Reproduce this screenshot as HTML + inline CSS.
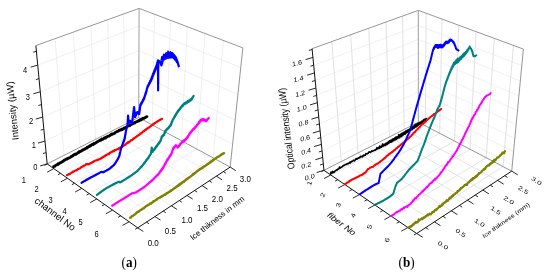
<!DOCTYPE html>
<html><head><meta charset="utf-8"><style>
html,body{margin:0;padding:0;background:#fff;width:550px;height:274px;overflow:hidden}
svg{display:block}
text{font-family:"Liberation Sans",Arial,sans-serif}
</style></head><body>
<svg width="550" height="274" viewBox="0 0 550 274" shape-rendering="geometricPrecision">
<g id="a">
<line x1="63.95" y1="155.40" x2="55.05" y2="38.69" stroke="#e4e4e4" stroke-width="0.6"/>
<line x1="63.95" y1="155.40" x2="154.93" y2="216.55" stroke="#e4e4e4" stroke-width="0.6"/>
<line x1="80.06" y1="147.21" x2="73.36" y2="32.09" stroke="#e4e4e4" stroke-width="0.6"/>
<line x1="80.06" y1="147.21" x2="171.35" y2="205.76" stroke="#e4e4e4" stroke-width="0.6"/>
<line x1="95.55" y1="139.34" x2="90.88" y2="25.77" stroke="#e4e4e4" stroke-width="0.6"/>
<line x1="95.55" y1="139.34" x2="187.03" y2="195.45" stroke="#e4e4e4" stroke-width="0.6"/>
<line x1="110.44" y1="131.77" x2="107.65" y2="19.72" stroke="#e4e4e4" stroke-width="0.6"/>
<line x1="110.44" y1="131.77" x2="202.03" y2="185.59" stroke="#e4e4e4" stroke-width="0.6"/>
<line x1="124.78" y1="124.48" x2="123.72" y2="13.93" stroke="#e4e4e4" stroke-width="0.6"/>
<line x1="124.78" y1="124.48" x2="216.39" y2="176.16" stroke="#e4e4e4" stroke-width="0.6"/>
<line x1="152.30" y1="124.90" x2="154.47" y2="14.22" stroke="#e4e4e4" stroke-width="0.6"/>
<line x1="166.59" y1="132.65" x2="170.51" y2="20.33" stroke="#e4e4e4" stroke-width="0.6"/>
<line x1="181.47" y1="140.72" x2="187.32" y2="26.73" stroke="#e4e4e4" stroke-width="0.6"/>
<line x1="197.00" y1="149.14" x2="204.94" y2="33.44" stroke="#e4e4e4" stroke-width="0.6"/>
<line x1="213.21" y1="157.93" x2="223.43" y2="40.49" stroke="#e4e4e4" stroke-width="0.6"/>
<line x1="60.54" y1="173.36" x2="152.30" y2="124.90" stroke="#e4e4e4" stroke-width="0.6"/>
<line x1="74.54" y1="183.24" x2="166.59" y2="132.65" stroke="#e4e4e4" stroke-width="0.6"/>
<line x1="89.21" y1="193.60" x2="181.47" y2="140.72" stroke="#e4e4e4" stroke-width="0.6"/>
<line x1="104.59" y1="204.45" x2="197.00" y2="149.14" stroke="#e4e4e4" stroke-width="0.6"/>
<line x1="120.75" y1="215.86" x2="213.21" y2="157.93" stroke="#e4e4e4" stroke-width="0.6"/>
<line x1="44.99" y1="141.09" x2="138.69" y2="96.17" stroke="#e4e4e4" stroke-width="0.6"/>
<line x1="138.69" y1="96.17" x2="232.61" y2="144.13" stroke="#e4e4e4" stroke-width="0.6"/>
<line x1="42.70" y1="117.08" x2="138.80" y2="73.91" stroke="#e4e4e4" stroke-width="0.6"/>
<line x1="138.80" y1="73.91" x2="235.18" y2="119.95" stroke="#e4e4e4" stroke-width="0.6"/>
<line x1="40.28" y1="91.80" x2="138.92" y2="50.60" stroke="#e4e4e4" stroke-width="0.6"/>
<line x1="138.92" y1="50.60" x2="237.90" y2="94.48" stroke="#e4e4e4" stroke-width="0.6"/>
<line x1="37.74" y1="65.14" x2="139.04" y2="26.18" stroke="#e4e4e4" stroke-width="0.6"/>
<line x1="139.04" y1="26.18" x2="240.77" y2="67.60" stroke="#e4e4e4" stroke-width="0.6"/>
<line x1="35.87" y1="45.60" x2="139.13" y2="8.38" stroke="#8a8a8a" stroke-width="0.9"/>
<line x1="139.13" y1="8.38" x2="242.87" y2="47.89" stroke="#8a8a8a" stroke-width="0.9"/>
<line x1="230.16" y1="167.11" x2="242.87" y2="47.89" stroke="#8a8a8a" stroke-width="0.9"/>
<line x1="138.58" y1="117.47" x2="139.13" y2="8.38" stroke="#b0b0b0" stroke-width="1.2"/>
<line x1="47.17" y1="163.92" x2="138.58" y2="117.47" stroke="#8a8a8a" stroke-width="0.9"/>
<line x1="138.58" y1="117.47" x2="230.16" y2="167.11" stroke="#8a8a8a" stroke-width="0.9"/>
<line x1="47.17" y1="163.92" x2="35.87" y2="45.60" stroke="#111" stroke-width="1"/>
<line x1="47.17" y1="163.92" x2="137.74" y2="227.85" stroke="#111" stroke-width="1"/>
<line x1="137.74" y1="227.85" x2="230.16" y2="167.11" stroke="#111" stroke-width="1"/>
<line x1="47.17" y1="163.92" x2="40.17" y2="165.92" stroke="#111" stroke-width="0.9"/>
<line x1="44.99" y1="141.09" x2="37.99" y2="143.09" stroke="#111" stroke-width="0.9"/>
<line x1="42.70" y1="117.08" x2="35.70" y2="119.08" stroke="#111" stroke-width="0.9"/>
<line x1="40.28" y1="91.80" x2="33.28" y2="93.80" stroke="#111" stroke-width="0.9"/>
<line x1="37.74" y1="65.14" x2="30.74" y2="67.14" stroke="#111" stroke-width="0.9"/>
<line x1="46.09" y1="152.65" x2="42.94" y2="153.55" stroke="#111" stroke-width="0.9"/>
<line x1="43.86" y1="129.24" x2="40.71" y2="130.14" stroke="#111" stroke-width="0.9"/>
<line x1="41.51" y1="104.61" x2="38.36" y2="105.51" stroke="#111" stroke-width="0.9"/>
<line x1="39.03" y1="78.65" x2="35.88" y2="79.55" stroke="#111" stroke-width="0.9"/>
<line x1="36.41" y1="51.26" x2="33.26" y2="52.16" stroke="#111" stroke-width="0.9"/>
<line x1="47.17" y1="163.92" x2="44.53" y2="165.36" stroke="#111" stroke-width="0.9"/>
<line x1="53.78" y1="168.59" x2="47.18" y2="172.19" stroke="#111" stroke-width="0.9"/>
<line x1="60.54" y1="173.36" x2="57.90" y2="174.80" stroke="#111" stroke-width="0.9"/>
<line x1="67.46" y1="178.25" x2="60.86" y2="181.85" stroke="#111" stroke-width="0.9"/>
<line x1="74.54" y1="183.24" x2="71.90" y2="184.68" stroke="#111" stroke-width="0.9"/>
<line x1="81.79" y1="188.36" x2="75.19" y2="191.96" stroke="#111" stroke-width="0.9"/>
<line x1="89.21" y1="193.60" x2="86.57" y2="195.04" stroke="#111" stroke-width="0.9"/>
<line x1="96.81" y1="198.96" x2="90.21" y2="202.56" stroke="#111" stroke-width="0.9"/>
<line x1="104.59" y1="204.45" x2="101.95" y2="205.89" stroke="#111" stroke-width="0.9"/>
<line x1="112.57" y1="210.09" x2="105.97" y2="213.69" stroke="#111" stroke-width="0.9"/>
<line x1="120.75" y1="215.86" x2="118.11" y2="217.30" stroke="#111" stroke-width="0.9"/>
<line x1="129.14" y1="221.78" x2="122.54" y2="225.38" stroke="#111" stroke-width="0.9"/>
<line x1="137.74" y1="227.85" x2="135.10" y2="229.29" stroke="#111" stroke-width="0.9"/>
<line x1="137.74" y1="227.85" x2="143.34" y2="231.45" stroke="#111" stroke-width="0.9"/>
<line x1="146.44" y1="222.13" x2="148.96" y2="223.75" stroke="#111" stroke-width="0.9"/>
<line x1="154.93" y1="216.55" x2="160.53" y2="220.15" stroke="#111" stroke-width="0.9"/>
<line x1="163.24" y1="211.09" x2="165.76" y2="212.71" stroke="#111" stroke-width="0.9"/>
<line x1="171.35" y1="205.76" x2="176.95" y2="209.36" stroke="#111" stroke-width="0.9"/>
<line x1="179.28" y1="200.55" x2="181.80" y2="202.17" stroke="#111" stroke-width="0.9"/>
<line x1="187.03" y1="195.45" x2="192.63" y2="199.05" stroke="#111" stroke-width="0.9"/>
<line x1="194.62" y1="190.47" x2="197.14" y2="192.09" stroke="#111" stroke-width="0.9"/>
<line x1="202.03" y1="185.59" x2="207.63" y2="189.19" stroke="#111" stroke-width="0.9"/>
<line x1="209.29" y1="180.82" x2="211.81" y2="182.44" stroke="#111" stroke-width="0.9"/>
<line x1="216.39" y1="176.16" x2="221.99" y2="179.76" stroke="#111" stroke-width="0.9"/>
<line x1="223.35" y1="171.59" x2="225.87" y2="173.21" stroke="#111" stroke-width="0.9"/>
<line x1="230.16" y1="167.11" x2="235.76" y2="170.71" stroke="#111" stroke-width="0.9"/>
</g>
<g id="b">
<line x1="341.31" y1="161.47" x2="331.83" y2="41.56" stroke="#cdcdcd" stroke-width="0.6"/>
<line x1="341.31" y1="161.47" x2="434.39" y2="221.88" stroke="#d4d4d4" stroke-width="0.6"/>
<line x1="357.98" y1="152.98" x2="350.70" y2="34.76" stroke="#cdcdcd" stroke-width="0.6"/>
<line x1="357.98" y1="152.98" x2="451.28" y2="210.79" stroke="#d4d4d4" stroke-width="0.6"/>
<line x1="373.98" y1="144.82" x2="368.74" y2="28.26" stroke="#cdcdcd" stroke-width="0.6"/>
<line x1="373.98" y1="144.82" x2="467.41" y2="200.20" stroke="#d4d4d4" stroke-width="0.6"/>
<line x1="389.37" y1="136.98" x2="386.00" y2="22.04" stroke="#cdcdcd" stroke-width="0.6"/>
<line x1="389.37" y1="136.98" x2="482.82" y2="190.07" stroke="#d4d4d4" stroke-width="0.6"/>
<line x1="404.17" y1="129.44" x2="402.53" y2="16.08" stroke="#cdcdcd" stroke-width="0.6"/>
<line x1="404.17" y1="129.44" x2="497.58" y2="180.38" stroke="#d4d4d4" stroke-width="0.6"/>
<line x1="425.36" y1="125.82" x2="426.09" y2="13.21" stroke="#cdcdcd" stroke-width="0.6"/>
<line x1="439.67" y1="133.32" x2="442.03" y2="19.09" stroke="#cdcdcd" stroke-width="0.6"/>
<line x1="454.55" y1="141.12" x2="458.68" y2="25.23" stroke="#cdcdcd" stroke-width="0.6"/>
<line x1="470.04" y1="149.25" x2="476.11" y2="31.65" stroke="#cdcdcd" stroke-width="0.6"/>
<line x1="486.18" y1="157.71" x2="494.35" y2="38.38" stroke="#cdcdcd" stroke-width="0.6"/>
<line x1="503.02" y1="166.54" x2="513.47" y2="45.43" stroke="#cdcdcd" stroke-width="0.6"/>
<line x1="330.75" y1="174.96" x2="425.36" y2="125.82" stroke="#d4d4d4" stroke-width="0.6"/>
<line x1="344.80" y1="184.54" x2="439.67" y2="133.32" stroke="#d4d4d4" stroke-width="0.6"/>
<line x1="359.50" y1="194.55" x2="454.55" y2="141.12" stroke="#d4d4d4" stroke-width="0.6"/>
<line x1="374.89" y1="205.03" x2="470.04" y2="149.25" stroke="#d4d4d4" stroke-width="0.6"/>
<line x1="391.01" y1="216.01" x2="486.18" y2="157.71" stroke="#d4d4d4" stroke-width="0.6"/>
<line x1="407.92" y1="227.54" x2="503.02" y2="166.54" stroke="#d4d4d4" stroke-width="0.6"/>
<line x1="323.32" y1="163.96" x2="418.41" y2="116.25" stroke="#e6e6e6" stroke-width="0.6"/>
<line x1="418.41" y1="116.25" x2="512.32" y2="164.72" stroke="#e6e6e6" stroke-width="0.6"/>
<line x1="322.06" y1="150.98" x2="418.41" y2="104.18" stroke="#e6e6e6" stroke-width="0.6"/>
<line x1="418.41" y1="104.18" x2="513.56" y2="151.70" stroke="#e6e6e6" stroke-width="0.6"/>
<line x1="320.76" y1="137.65" x2="418.40" y2="91.83" stroke="#e6e6e6" stroke-width="0.6"/>
<line x1="418.40" y1="91.83" x2="514.84" y2="138.34" stroke="#e6e6e6" stroke-width="0.6"/>
<line x1="319.42" y1="123.96" x2="418.40" y2="79.19" stroke="#e6e6e6" stroke-width="0.6"/>
<line x1="418.40" y1="79.19" x2="516.16" y2="124.60" stroke="#e6e6e6" stroke-width="0.6"/>
<line x1="318.04" y1="109.89" x2="418.39" y2="66.23" stroke="#e6e6e6" stroke-width="0.6"/>
<line x1="418.39" y1="66.23" x2="517.51" y2="110.49" stroke="#e6e6e6" stroke-width="0.6"/>
<line x1="316.63" y1="95.42" x2="418.39" y2="52.96" stroke="#e6e6e6" stroke-width="0.6"/>
<line x1="418.39" y1="52.96" x2="518.89" y2="95.98" stroke="#e6e6e6" stroke-width="0.6"/>
<line x1="315.18" y1="80.54" x2="418.38" y2="39.35" stroke="#e6e6e6" stroke-width="0.6"/>
<line x1="418.38" y1="39.35" x2="520.32" y2="81.05" stroke="#e6e6e6" stroke-width="0.6"/>
<line x1="313.68" y1="65.24" x2="418.38" y2="25.40" stroke="#e6e6e6" stroke-width="0.6"/>
<line x1="418.38" y1="25.40" x2="521.79" y2="65.69" stroke="#e6e6e6" stroke-width="0.6"/>
<line x1="312.07" y1="48.68" x2="418.37" y2="10.37" stroke="#8a8a8a" stroke-width="0.9"/>
<line x1="418.37" y1="10.37" x2="523.38" y2="49.08" stroke="#8a8a8a" stroke-width="0.9"/>
<line x1="511.71" y1="171.10" x2="523.38" y2="49.08" stroke="#8a8a8a" stroke-width="0.9"/>
<line x1="418.42" y1="122.17" x2="418.37" y2="10.37" stroke="#b0b0b0" stroke-width="1.2"/>
<line x1="323.95" y1="170.33" x2="418.42" y2="122.17" stroke="#8a8a8a" stroke-width="0.9"/>
<line x1="418.42" y1="122.17" x2="511.71" y2="171.10" stroke="#8a8a8a" stroke-width="0.9"/>
<line x1="323.95" y1="170.33" x2="312.07" y2="48.68" stroke="#111" stroke-width="1"/>
<line x1="323.95" y1="170.33" x2="416.69" y2="233.51" stroke="#111" stroke-width="1"/>
<line x1="416.69" y1="233.51" x2="511.71" y2="171.10" stroke="#111" stroke-width="1"/>
<line x1="323.95" y1="170.33" x2="316.65" y2="172.53" stroke="#111" stroke-width="0.9"/>
<line x1="322.69" y1="157.51" x2="315.39" y2="159.71" stroke="#111" stroke-width="0.9"/>
<line x1="321.41" y1="144.36" x2="314.11" y2="146.56" stroke="#111" stroke-width="0.9"/>
<line x1="320.09" y1="130.85" x2="312.79" y2="133.05" stroke="#111" stroke-width="0.9"/>
<line x1="318.74" y1="116.97" x2="311.44" y2="119.17" stroke="#111" stroke-width="0.9"/>
<line x1="317.34" y1="102.71" x2="310.04" y2="104.91" stroke="#111" stroke-width="0.9"/>
<line x1="315.91" y1="88.04" x2="308.61" y2="90.24" stroke="#111" stroke-width="0.9"/>
<line x1="314.44" y1="72.95" x2="307.14" y2="75.15" stroke="#111" stroke-width="0.9"/>
<line x1="312.92" y1="57.42" x2="305.62" y2="59.62" stroke="#111" stroke-width="0.9"/>
<line x1="323.32" y1="163.96" x2="320.04" y2="164.95" stroke="#111" stroke-width="0.9"/>
<line x1="322.06" y1="150.98" x2="318.77" y2="151.97" stroke="#111" stroke-width="0.9"/>
<line x1="320.76" y1="137.65" x2="317.47" y2="138.64" stroke="#111" stroke-width="0.9"/>
<line x1="319.42" y1="123.96" x2="316.13" y2="124.95" stroke="#111" stroke-width="0.9"/>
<line x1="318.04" y1="109.89" x2="314.76" y2="110.88" stroke="#111" stroke-width="0.9"/>
<line x1="316.63" y1="95.42" x2="313.35" y2="96.41" stroke="#111" stroke-width="0.9"/>
<line x1="315.18" y1="80.54" x2="311.89" y2="81.53" stroke="#111" stroke-width="0.9"/>
<line x1="313.68" y1="65.24" x2="310.40" y2="66.23" stroke="#111" stroke-width="0.9"/>
<line x1="312.14" y1="49.48" x2="308.86" y2="50.47" stroke="#111" stroke-width="0.9"/>
<line x1="323.95" y1="170.33" x2="321.31" y2="171.77" stroke="#111" stroke-width="0.9"/>
<line x1="330.75" y1="174.96" x2="324.15" y2="178.56" stroke="#111" stroke-width="0.9"/>
<line x1="337.70" y1="179.69" x2="335.06" y2="181.13" stroke="#111" stroke-width="0.9"/>
<line x1="344.80" y1="184.54" x2="338.20" y2="188.14" stroke="#111" stroke-width="0.9"/>
<line x1="352.07" y1="189.49" x2="349.43" y2="190.93" stroke="#111" stroke-width="0.9"/>
<line x1="359.50" y1="194.55" x2="352.90" y2="198.15" stroke="#111" stroke-width="0.9"/>
<line x1="367.11" y1="199.73" x2="364.47" y2="201.17" stroke="#111" stroke-width="0.9"/>
<line x1="374.89" y1="205.03" x2="368.29" y2="208.63" stroke="#111" stroke-width="0.9"/>
<line x1="382.85" y1="210.46" x2="380.21" y2="211.90" stroke="#111" stroke-width="0.9"/>
<line x1="391.01" y1="216.01" x2="384.41" y2="219.61" stroke="#111" stroke-width="0.9"/>
<line x1="399.36" y1="221.71" x2="396.72" y2="223.15" stroke="#111" stroke-width="0.9"/>
<line x1="407.92" y1="227.54" x2="401.32" y2="231.14" stroke="#111" stroke-width="0.9"/>
<line x1="416.69" y1="233.51" x2="414.05" y2="234.95" stroke="#111" stroke-width="0.9"/>
<line x1="416.69" y1="233.51" x2="422.79" y2="237.31" stroke="#111" stroke-width="0.9"/>
<line x1="425.65" y1="227.63" x2="428.39" y2="229.34" stroke="#111" stroke-width="0.9"/>
<line x1="434.39" y1="221.88" x2="440.49" y2="225.68" stroke="#111" stroke-width="0.9"/>
<line x1="442.94" y1="216.27" x2="445.68" y2="217.98" stroke="#111" stroke-width="0.9"/>
<line x1="451.28" y1="210.79" x2="457.38" y2="214.59" stroke="#111" stroke-width="0.9"/>
<line x1="459.44" y1="205.43" x2="462.18" y2="207.14" stroke="#111" stroke-width="0.9"/>
<line x1="467.41" y1="200.20" x2="473.51" y2="204.00" stroke="#111" stroke-width="0.9"/>
<line x1="475.20" y1="195.08" x2="477.95" y2="196.79" stroke="#111" stroke-width="0.9"/>
<line x1="482.82" y1="190.07" x2="488.92" y2="193.87" stroke="#111" stroke-width="0.9"/>
<line x1="490.28" y1="185.18" x2="493.03" y2="186.89" stroke="#111" stroke-width="0.9"/>
<line x1="497.58" y1="180.38" x2="503.68" y2="184.18" stroke="#111" stroke-width="0.9"/>
<line x1="504.72" y1="175.69" x2="507.46" y2="177.40" stroke="#111" stroke-width="0.9"/>
<line x1="511.71" y1="171.10" x2="517.81" y2="174.90" stroke="#111" stroke-width="0.9"/>
</g>
<polyline points="53.6,166.6 54.0,166.4 54.5,166.4 54.9,166.2 55.4,165.5 55.8,165.3 56.2,165.0 56.7,165.0 57.1,164.6 57.5,164.6 58.0,163.7 58.4,164.3 58.9,163.6 59.3,163.5 59.7,163.1 60.2,162.8 60.6,162.8 61.0,162.6 61.5,162.1 61.9,161.8 62.4,161.8 62.8,161.2 63.2,160.8 63.7,161.0 64.1,160.5 64.5,159.9 65.0,159.9 65.4,159.8 65.9,159.3 66.3,159.0 66.7,159.2 67.2,159.1 67.6,158.6 68.0,158.2 68.5,158.3 68.9,158.1 69.4,157.6 69.8,157.6 70.2,157.4 70.7,156.9 71.1,156.5 71.5,156.5 72.0,156.2 72.4,156.2 72.9,155.4 73.3,155.3 73.7,155.0 74.2,154.5 74.6,154.7 75.0,154.6 75.5,154.0 75.9,154.3 76.4,153.9 76.8,153.6 77.2,153.3 77.7,153.2 78.1,152.4 78.5,152.6 79.0,152.4 79.4,151.5 79.9,151.8 80.3,151.4 80.7,151.4 81.2,150.9 81.6,150.7 82.0,150.6 82.5,150.0 82.9,150.1 83.4,149.7 83.8,149.6 84.2,149.1 84.7,149.3 85.1,148.9 85.5,148.4 86.0,148.4 86.4,148.3 86.9,148.2 87.3,147.1 87.7,147.5 88.2,147.1 88.6,146.7 89.1,146.2 89.5,146.6 89.9,145.7 90.4,145.9 90.8,145.8 91.2,144.9 91.7,144.9 92.1,144.4 92.6,144.6 93.0,144.7 93.4,144.5 93.9,143.3 94.3,143.4 94.8,143.4 95.2,143.4 95.6,142.9 96.1,142.3 96.5,142.4 96.9,142.0 97.4,141.7 97.8,141.4 98.2,141.4 98.7,141.1 99.1,140.8 99.6,140.5 100.0,140.0 100.5,139.9 100.9,140.2 101.3,139.6 101.8,139.0 102.2,139.5 102.7,139.1 103.1,139.2 103.6,138.5 104.0,138.2 104.5,137.7 104.9,138.2 105.4,138.2 105.8,137.2 106.3,137.0 106.7,137.1 107.2,136.5 107.6,136.4 108.1,136.2 108.5,136.1 109.0,136.1 109.4,135.6 109.8,135.6 110.3,135.0 110.7,135.0 111.2,134.1 111.6,134.1 112.1,134.4 112.5,133.8 113.0,133.9 113.4,133.7 113.9,133.6 114.3,133.3 114.8,133.1 115.2,132.6 115.7,132.2 116.1,132.0 116.6,131.8 117.0,131.4 117.5,131.4 117.9,131.2 118.3,131.1 118.8,130.7 119.2,130.1 119.7,130.3 120.1,130.2 120.6,130.2 121.0,129.8 121.5,129.3 121.9,129.1 122.4,129.5 122.8,129.0 123.3,129.0 123.7,128.9 124.2,127.9 124.6,128.0 125.1,127.8 125.5,127.6 126.0,127.3 126.4,127.0 126.9,126.8 127.3,126.2 127.8,126.3 128.2,125.9 128.7,125.9 129.1,125.5 129.5,125.6 130.0,125.4 130.4,125.0 130.9,124.8 131.3,124.5 131.8,124.2 132.2,124.0 132.7,123.7 133.1,123.7 133.6,123.4 134.0,123.3 134.5,122.6 134.9,122.9 135.4,122.3 135.8,122.1 136.3,122.0 136.7,121.7 137.2,121.6 137.6,121.2 138.1,120.8 138.5,120.7 138.9,121.0 139.4,120.5 139.8,119.9 140.3,120.0 140.7,119.4 141.2,120.0 141.6,118.9 142.1,119.2 142.5,119.0 143.0,118.3 143.4,118.5 143.9,118.4 144.3,118.1 144.8,117.8 145.2,117.7 145.7,117.3 146.1,117.1 146.6,116.8 147.0,116.6" fill="none" stroke="#000" stroke-width="2.8" stroke-linejoin="round" stroke-linecap="round"/>
<polyline points="67.0,175.2 67.5,174.8 67.9,174.8 68.3,174.4 68.8,174.1 69.2,174.1 69.7,174.0 70.1,173.7 70.6,173.2 71.0,173.1 71.5,172.7 71.9,172.5 72.4,172.3 72.8,171.7 73.3,171.8 73.7,171.4 74.2,171.2 74.6,170.9 75.1,170.6 75.5,170.5 76.0,170.5 76.4,170.4 76.9,169.9 77.3,169.8 77.8,169.4 78.2,168.9 78.7,168.9 79.1,168.8 79.5,168.4 80.0,168.2 80.4,168.0 80.9,167.5 81.3,167.1 81.8,167.0 82.2,166.7 82.6,166.4 83.1,166.3 83.5,166.2 84.0,165.6 84.4,165.4 84.8,165.2 85.3,164.9 85.7,164.6 86.2,164.1 86.6,164.0 87.2,164.3 87.7,164.2 88.2,164.0 88.8,164.3 89.2,164.1 89.7,163.8 90.1,163.4 90.6,163.4 91.0,162.8 91.5,162.8 91.9,162.5 92.4,162.1 92.8,162.2 93.3,161.8 93.7,161.3 94.2,161.3 94.6,160.9 95.1,160.5 95.5,160.5 96.0,160.5 96.5,160.4 96.9,160.1 97.4,159.9 97.9,159.8 98.3,159.5 98.8,159.5 99.3,159.2 99.7,159.0 100.2,158.9 100.6,158.4 101.1,158.2 101.5,158.3 101.9,157.8 102.4,157.5 102.8,157.3 103.2,156.9 103.7,156.8 104.1,156.4 104.5,156.3 105.0,155.7 105.4,155.9 105.8,155.4 106.2,154.9 106.7,154.9 107.1,154.6 107.5,154.4 108.0,154.0 108.4,154.0 108.8,154.2 109.3,153.2 109.7,153.2 110.1,152.8 110.6,152.6 111.0,152.1 111.4,151.9 111.9,151.9 112.3,151.6 112.7,151.6 113.2,150.9 113.6,150.8 114.1,151.0 114.5,150.3 115.0,150.0 115.5,150.0 116.0,149.8 116.4,149.7 116.9,149.4 117.4,149.0 117.8,149.0 118.3,149.1 118.8,148.7 119.3,147.9 119.7,148.1 120.2,147.8 120.6,147.7 121.0,147.3 121.5,147.3 121.9,146.9 122.3,146.6 122.8,146.2 123.2,145.9 123.6,145.7 124.0,145.5 124.5,145.1 124.9,144.7 125.3,144.7 125.7,144.2 126.2,143.9 126.6,143.5 127.0,143.2 127.4,142.9 127.9,142.3 128.3,142.6 128.7,142.2 129.2,141.8 129.6,141.7 130.0,141.4 130.4,141.1 130.8,140.3 131.2,140.4 131.7,140.2 132.1,140.0 132.5,139.8 132.9,139.4 133.3,138.7 133.7,138.3 134.1,138.4 134.5,138.0 134.9,137.8 135.4,137.4 135.8,137.1 136.2,136.6 136.6,136.6 137.0,136.1 137.4,135.9 137.8,135.7 138.2,135.3 138.7,135.1 139.1,134.7 139.5,134.5 139.9,134.2 140.3,133.7 140.7,133.4 141.1,133.5 141.5,132.9 141.9,132.8 142.3,132.4 142.7,131.9 143.1,131.6 143.5,131.4 143.9,131.1 144.3,130.9 144.8,130.3 145.2,130.1 145.6,129.9 146.0,129.8 146.4,128.9 146.8,129.1 147.2,128.6 147.6,128.5 148.0,128.0 148.4,127.8 148.8,127.7 149.2,127.2 149.6,127.0 150.1,126.6 150.5,126.2 150.9,126.0 151.3,125.6 151.7,125.2 152.1,125.0 152.5,124.7 152.9,124.5 153.3,124.1 153.8,123.7 154.2,123.7 154.6,123.3 155.0,123.1 155.4,122.7 155.9,122.4 156.3,122.1 156.8,121.9 157.2,121.8 157.6,121.4 158.1,120.9 158.5,120.9 158.9,120.4 159.4,120.4 159.8,120.0 160.2,119.7 160.7,119.7 161.1,119.4 161.6,118.9 162.0,118.9" fill="none" stroke="#ff0000" stroke-width="2.2" stroke-linejoin="round" stroke-linecap="round"/>
<polyline points="81.5,182.8 82.0,182.4 82.4,182.4 82.9,181.8 83.3,181.8 83.8,181.3 84.2,181.3 84.7,180.8 85.2,180.8 85.6,180.2 86.1,180.2 86.5,179.7 87.0,179.7 87.4,179.2 87.9,179.2 88.3,178.7 88.8,178.6 89.2,178.2 89.7,178.2 90.1,177.7 90.6,177.7 91.0,177.2 91.5,177.2 91.9,176.8 92.4,176.7 92.8,176.3 93.3,176.3 93.7,175.9 94.2,175.8 94.6,175.4 95.0,175.4 95.5,174.9 95.9,174.9 96.4,174.4 96.8,174.4 97.2,174.0 97.7,173.9 98.1,173.5 98.6,173.4 99.0,173.0 99.4,172.9 99.9,172.5 100.3,172.5 100.8,172.1 101.2,172.0 101.8,171.8 102.3,172.1 102.8,172.1 103.4,172.3 103.8,171.8 104.3,171.8 104.7,171.3 105.2,171.4 105.6,170.9 106.1,170.9 106.5,170.4 107.0,170.3 107.4,169.9 107.9,169.9 108.3,169.4 108.8,169.3 109.2,168.9 109.6,168.8 110.0,168.2 110.4,168.1 110.8,167.5 111.2,167.4 111.5,166.8 112.0,166.7 112.3,166.1 112.7,166.1 113.1,165.5 113.5,165.4 113.9,164.8 114.3,164.7 114.6,164.0 114.9,163.8 115.2,163.2 115.5,163.0 115.8,162.3 116.0,162.1 116.3,161.4 116.6,161.2 116.9,160.6 117.2,160.3 117.4,159.6 117.7,159.4 117.9,158.6 118.2,158.4 118.4,157.6 118.7,157.4 118.9,156.7 119.2,156.4 119.4,155.7 119.5,155.4 119.6,154.6 119.7,154.4 119.8,153.5 120.0,153.3 120.0,152.5 120.2,152.3 120.3,151.4 120.4,151.2 120.5,150.3 120.6,150.2 120.8,149.2 120.9,149.2 121.1,148.3 121.2,148.2 121.4,147.2 121.6,147.2 121.7,146.3 121.9,146.3 122.1,145.3 122.3,145.3 122.5,144.4 122.6,144.4 122.8,143.4 123.0,143.3 123.2,142.3 123.4,142.6 123.6,141.3 123.8,141.6 123.9,140.3 124.1,140.7 124.3,139.4 124.5,139.6 124.6,138.3 124.7,138.6 124.8,137.5 124.9,137.6 124.9,136.6 125.0,136.5 125.1,135.5 125.2,135.6 125.3,134.4 125.4,134.7 125.5,133.3 125.6,133.7 125.7,132.4 125.7,132.6 125.8,131.4 125.9,131.4 126.0,130.5 126.1,130.6 126.2,129.5 126.4,129.5 126.5,128.5 126.7,128.3 126.8,127.5 126.9,127.4 127.1,126.6 127.2,126.3 127.4,125.6 127.5,125.3 127.5,124.5 127.6,124.3 127.6,123.5 127.6,123.3 127.7,122.5 127.7,122.2 127.7,121.6 127.8,121.2 127.8,120.5 127.8,120.2 127.8,119.5 127.9,119.1 127.9,118.5 127.9,118.1 128.0,117.5 128.0,117.0 128.0,116.5 128.1,116.0 128.1,115.5 128.1,116.0 128.2,116.5 128.2,117.0 128.3,117.6 128.3,118.0 128.3,118.7 128.4,119.0 128.4,119.7 128.5,120.0 128.5,120.8 128.5,121.0 128.6,121.8 128.6,122.0 128.7,122.9 128.7,123.0 129.1,123.0 129.4,121.8 129.8,121.9 130.1,120.9 130.5,122.0 130.9,121.7 131.3,122.8 131.7,122.4 132.1,123.5 132.2,122.3 132.2,122.5 132.3,121.5 132.3,121.5 132.4,120.4 132.4,120.4 132.5,119.5 132.6,119.3 132.6,118.3 132.7,118.4 132.8,117.3 132.8,117.3 132.9,116.4 132.9,116.2 133.0,115.4 133.1,115.3 133.1,114.3 133.2,114.3 133.2,113.4 133.3,113.2 133.3,112.4 133.4,112.2 133.5,111.4 133.6,111.0 133.6,110.3 133.7,109.9 133.8,109.2 133.9,108.8 133.9,108.2 134.0,107.7 134.1,107.1 134.2,107.6 134.2,108.1 134.2,108.6 134.3,109.2 134.3,109.5 134.4,110.2 134.4,110.5 134.5,111.2 134.6,111.5 134.6,112.2 134.7,112.5 134.7,113.3 134.8,113.5 134.8,114.3 134.8,114.4 134.9,115.2 134.9,115.4 135.0,116.3 135.1,116.5 135.1,117.2 135.3,116.4 135.5,116.4 135.7,115.4 135.9,115.5 136.1,114.3 136.3,114.5 136.5,113.4 136.7,113.4 136.9,112.3 137.1,112.5 137.5,112.1 137.9,113.3 138.3,112.8 138.7,114.2 139.1,113.6 139.2,114.0 139.2,112.5 139.3,113.0 139.4,111.5 139.5,112.2 139.5,110.6 139.6,111.0 139.7,109.7 139.8,110.2 139.8,108.5 139.9,109.1 140.0,107.7 140.0,108.0 140.1,106.4 140.2,106.9 140.3,105.4 140.3,106.0 140.4,104.6 140.7,105.0 140.9,103.8 141.2,104.3 141.4,102.6 141.7,103.2 142.0,101.9 142.2,102.6 142.5,101.0 142.7,101.6 143.0,99.8 143.2,100.6 143.5,99.1 143.7,99.8 144.0,97.8 144.2,98.6 144.4,97.0 144.5,97.6 144.7,96.0 144.8,96.4 145.0,95.1 145.2,95.4 145.3,94.1 145.5,94.5 145.7,92.9 145.8,93.6 146.0,91.9 146.1,92.7 146.3,91.1 146.4,91.5 146.6,90.1 146.7,90.5 146.8,89.1 146.9,89.4 147.1,88.1 147.2,88.5 147.4,86.8 147.5,87.5 147.8,85.8 148.0,86.5 148.2,85.0 148.5,85.6 148.8,84.1 149.0,84.6 149.2,82.9 149.5,83.7 149.8,82.1 150.0,82.8 150.2,80.8 150.5,81.7 150.8,80.0 151.0,80.9 151.2,78.9 151.4,79.8 151.6,77.8 151.8,79.2 151.9,76.8 152.1,78.3 152.3,76.1 152.5,77.2 152.7,74.9 152.9,76.2 153.1,73.9 153.2,75.3 153.4,73.1 153.6,74.5 153.8,72.4 154.0,73.5 154.2,71.2 154.4,72.3 154.6,70.1 154.8,71.7 155.0,69.5 155.2,70.5 155.3,68.6 155.5,69.8 155.7,67.6 155.9,68.6 156.1,66.4 156.3,67.8 156.5,65.8 156.6,67.1 156.7,64.8 156.9,65.8 157.0,63.9 157.1,64.7 157.2,62.9 157.4,63.5 157.5,62.0 157.6,62.5 157.7,61.2 157.9,61.1 158.0,60.4 158.0,60.9 158.0,61.4 158.0,61.9 158.0,62.4 158.0,62.9 158.0,63.4 158.0,63.9 158.0,64.4 158.0,64.9 158.0,65.4 158.0,65.9 158.0,66.4 158.0,66.9 158.0,67.4 158.0,67.9 158.0,68.4 158.0,68.9 158.0,69.4 158.0,69.9 158.0,70.4 158.0,70.9 158.0,71.4 158.0,71.9 158.0,72.4 158.0,72.9 158.0,73.4 158.0,73.9 158.1,74.5 158.1,75.0 158.1,75.5 158.1,76.0 158.1,76.5 158.1,77.0 158.1,77.5 158.1,78.0 158.1,78.5 158.1,79.0 158.1,79.5 158.1,80.0 158.1,80.5 158.1,81.0 158.1,81.5 158.1,82.0 158.1,82.5 158.1,83.0 158.1,83.5 158.1,84.0 158.1,84.5 158.1,85.0 158.1,85.5 158.1,86.0 158.1,86.5 158.1,87.0 158.1,87.5 158.1,88.0 158.1,88.5 158.1,89.0 158.1,89.5 158.1,90.0 158.1,90.5 158.1,90.0 158.1,89.5 158.1,89.0 158.1,88.5 158.1,88.0 158.1,87.5 158.1,87.0 158.1,86.5 158.1,86.0 158.1,85.5 158.1,85.0 158.1,84.5 158.1,84.0 158.2,83.5 158.2,83.0 158.2,82.5 158.2,82.0 158.2,81.5 158.2,81.0 158.2,80.5 158.2,80.0 158.2,79.5 158.2,79.0 158.2,78.5 158.2,78.0 158.2,77.5 158.2,77.0 158.2,76.5 158.2,76.0 158.2,75.5 158.2,75.0 158.2,74.5 158.2,74.0 158.2,73.5 158.2,73.0 158.2,72.5 158.2,72.0 158.2,71.5 158.2,71.0 158.2,70.5 158.2,70.0 158.2,69.5 158.2,69.0 158.2,68.5 158.2,68.0 158.3,67.5 158.3,67.0 158.3,66.5 158.3,66.0 158.3,65.5 158.3,65.0 158.3,64.5 158.3,64.0 158.3,63.5 158.3,63.0 158.3,62.5 158.3,62.0 158.3,61.5 158.3,61.0 158.8,61.1 159.3,61.8 159.8,61.3 160.3,62.6 160.5,61.7 160.7,63.7 160.8,62.9 161.0,64.5 161.2,63.7 161.4,65.5 161.5,63.7 161.7,64.9 161.8,62.6 161.9,63.7 162.1,61.7 162.2,63.3 162.3,60.8 162.4,62.2 162.6,59.4 162.7,61.3 162.8,58.4 163.0,59.9 163.1,57.1 163.5,59.0 163.9,55.9 164.3,59.3 164.6,55.6 165.0,58.5 165.4,54.5 165.8,58.6 166.3,54.5 166.9,57.4 167.4,53.5 168.0,58.0 168.5,52.8 169.0,57.4 169.5,53.9 170.0,57.7 170.5,53.4 171.0,56.9 171.5,53.2 172.0,57.5 172.5,53.9 173.0,57.5 173.4,54.5 173.9,58.0 174.4,55.5 174.7,59.4 175.0,56.5 175.2,59.3 175.5,57.4 175.8,60.5 176.1,58.2 176.4,61.1 176.6,59.4 176.9,62.0 177.2,60.7 177.4,62.6 177.7,62.1 177.9,63.6 178.0,63.1 178.2,64.6 178.3,64.5 178.5,65.4 178.6,65.7 178.8,66.3" fill="none" stroke="#0000ff" stroke-width="2.2" stroke-linejoin="round" stroke-linecap="round"/>
<polyline points="161.0,60.0 161.3,59.7 161.7,56.7 162.1,58.5 162.4,57.1 162.8,57.4 163.1,56.7 163.6,54.1 164.0,55.4 164.4,55.1 164.9,54.6 165.3,54.3 165.8,52.9 166.3,52.9 166.9,53.0 167.4,52.9 168.0,51.0 168.7,52.4 169.3,52.9 170.0,52.1 170.6,51.6 171.2,53.5 171.9,52.7 172.5,52.6 173.0,53.5 173.4,54.1 173.9,54.9 174.4,55.3 174.7,55.7 175.1,56.2 175.4,56.1 175.8,56.8 176.1,57.4 176.4,58.5 176.7,59.1 176.9,59.9 177.2,60.3 177.5,61.0" fill="none" stroke="#0000ff" stroke-width="1.3" stroke-linejoin="round" stroke-linecap="round"/>
<polyline points="96.9,195.0 97.3,194.6 97.7,194.5 98.1,193.9 98.5,193.9 98.9,193.3 99.3,193.2 99.7,192.7 100.2,192.6 100.6,192.1 101.0,192.0 101.4,191.5 101.8,191.4 102.2,190.8 102.6,190.7 103.0,190.2 103.4,190.1 103.8,189.7 104.3,189.6 104.7,189.1 105.2,189.1 105.6,188.6 106.0,188.5 106.5,188.1 106.9,188.0 107.4,187.5 107.8,187.5 108.2,187.0 108.7,187.0 109.1,186.5 109.6,186.5 110.0,186.0 110.5,185.9 110.9,185.5 111.3,185.5 111.8,185.1 112.2,185.1 112.7,184.6 113.1,184.6 113.6,184.1 114.0,184.2 114.5,183.7 114.9,183.7 115.3,183.2 115.8,183.2 116.3,182.8 116.8,182.8 117.3,182.3 117.8,182.3 118.3,181.8 118.8,181.8 119.3,181.8 119.7,182.3 120.2,182.3 120.7,182.2 121.1,181.7 121.6,181.7 122.0,181.2 122.5,181.1 122.9,180.6 123.4,180.6 123.8,180.1 124.3,180.0 124.7,179.5 125.2,179.5 125.7,179.0 126.1,178.9 126.5,178.4 127.0,178.3 127.4,177.8 127.9,177.7 128.3,177.3 128.8,177.2 129.2,176.7 129.7,176.6 130.1,176.1 130.6,176.1 131.0,175.6 131.4,175.5 131.9,175.0 132.3,174.9 132.7,174.4 133.1,174.3 133.6,173.7 134.0,173.6 134.4,173.1 134.8,173.0 135.2,172.5 135.6,172.4 136.0,171.9 136.5,171.7 136.9,171.2 137.3,171.1 137.7,170.6 138.1,170.4 138.4,169.8 138.7,169.7 139.1,169.0 139.4,168.9 139.8,168.3 140.1,168.2 140.5,167.4 140.8,167.5 141.2,166.7 141.5,166.7 141.9,165.9 142.2,166.0 142.6,165.2 142.9,165.2 143.2,164.4 143.5,164.4 143.8,163.5 144.1,163.5 144.4,162.7 144.8,162.8 145.1,161.9 145.4,161.8 145.7,161.1 146.0,161.1 146.3,160.2 146.6,160.3 146.9,159.4 147.2,159.4 147.6,158.4 147.9,158.5 148.2,157.7 148.5,157.8 148.8,156.9 149.1,156.9 149.3,155.9 149.6,156.0 149.9,155.1 150.2,155.1 150.4,154.2 150.7,154.1 151.0,153.3 151.1,153.1 151.1,152.4 151.2,152.1 151.2,151.4 151.3,151.1 151.3,150.4 151.4,150.0 151.5,149.4 151.5,149.0 151.6,148.5 151.6,148.0 151.7,147.5 151.8,148.0 151.9,148.6 151.9,148.9 152.0,149.6 152.1,149.8 152.2,150.6 152.2,150.8 152.3,151.6 152.4,151.8 152.7,151.9 153.0,150.9 153.3,151.0 153.6,149.9 153.9,150.2 154.2,149.2 154.6,149.4 154.9,148.2 155.2,148.6 155.5,147.5 155.8,147.6 156.1,146.6 156.4,146.8 156.7,145.6 157.0,146.1 157.3,145.0 157.6,145.1 157.9,144.1 158.2,144.4 158.6,143.2 158.9,143.5 159.2,142.4 159.5,142.8 159.8,141.5 160.1,141.8 160.4,140.7 160.6,141.1 160.7,139.7 160.9,140.0 161.1,138.9 161.2,139.0 161.4,137.8 161.6,138.0 161.7,136.7 161.9,137.1 162.3,135.9 162.6,136.4 163.0,135.3 163.4,135.5 163.7,134.5 164.1,135.0 164.3,133.6 164.5,133.9 164.7,132.5 164.9,132.8 165.1,131.4 165.3,131.8 165.5,130.3 165.9,130.9 166.2,129.7 166.6,130.2 167.0,129.1 167.4,129.2 167.8,128.2 168.1,128.6 168.5,127.6 168.8,127.8 169.1,126.7 169.4,126.9 169.8,125.8 170.1,126.1 170.4,125.0 170.7,125.5 170.9,124.1 171.1,124.4 171.3,123.2 171.5,123.5 171.7,122.2 171.9,122.4 172.1,121.4 172.3,121.6 172.5,120.2 172.7,120.4 172.9,119.3 173.1,119.6 173.4,118.5 173.6,118.8 173.9,117.6 174.1,117.8 174.4,116.7 174.7,116.9 174.9,115.7 175.2,116.2 175.4,115.1 175.7,115.2 175.9,114.2 176.2,114.5 176.5,113.2 176.7,113.4 177.0,112.4 177.2,112.6 177.5,111.6 177.8,111.9 178.1,110.6 178.5,111.0 178.8,109.9 179.1,110.2 179.4,109.2 179.8,109.4 180.1,108.3 180.4,108.6 180.7,107.3 181.1,107.7 181.4,106.6 181.7,106.9 182.1,105.7 182.4,106.2 182.7,104.9 183.1,105.5 183.4,104.1 183.8,104.7 184.3,103.4 184.7,104.2 185.1,102.8 185.6,103.7 186.0,102.4 186.4,103.2 186.8,101.8 187.3,102.6 187.7,101.2 188.2,102.0 188.6,100.6 189.1,101.5 189.6,100.1 190.0,100.8 190.5,99.3 190.9,100.3 191.4,99.0 191.7,99.5 191.9,98.3 192.2,98.5 192.5,97.3 192.8,97.4 193.1,96.6 193.3,96.3 193.6,95.8" fill="none" stroke="#008080" stroke-width="2.2" stroke-linejoin="round" stroke-linecap="round"/>
<polyline points="112.2,205.8 112.6,205.4 113.1,205.3 113.5,204.8 114.0,204.7 114.4,204.2 114.8,204.2 115.3,203.6 115.7,203.5 116.2,203.1 116.6,202.9 117.0,202.5 117.5,202.4 117.9,201.8 118.4,201.8 118.8,201.3 119.2,201.3 119.7,200.8 120.1,200.7 120.6,200.3 121.0,200.2 121.5,199.7 121.9,199.7 122.4,199.2 122.8,199.1 123.3,198.7 123.7,198.7 124.2,198.2 124.6,198.1 125.0,197.6 125.5,197.6 125.9,197.1 126.3,197.0 126.8,196.6 127.2,196.5 127.6,196.0 128.0,195.9 128.5,195.4 128.9,195.4 129.3,194.9 129.8,194.9 130.2,194.4 130.6,194.3 131.0,193.8 131.5,193.8 131.9,193.3 132.4,193.4 132.9,193.1 133.4,193.2 134.0,192.9 134.5,192.9 135.0,192.6 135.5,192.7 136.0,192.2 136.4,192.2 136.9,191.6 137.3,191.6 137.8,191.1 138.3,191.0 138.7,190.6 139.2,190.5 139.7,190.0 140.1,189.9 140.5,189.4 141.0,189.3 141.4,188.8 141.9,188.7 142.3,188.2 142.8,188.1 143.2,187.6 143.7,187.5 144.1,187.0 144.6,186.9 145.0,186.4 145.4,186.3 145.8,185.8 146.2,185.6 146.5,185.0 146.9,185.0 147.3,184.3 147.7,184.3 148.1,183.7 148.5,183.6 148.8,183.0 149.2,182.9 149.6,182.2 150.0,182.3 150.4,181.7 150.8,181.7 151.2,180.9 151.5,180.9 151.9,180.2 152.3,180.4 152.7,179.6 153.1,179.6 153.4,178.8 153.8,178.9 154.2,178.0 154.6,178.1 154.9,177.3 155.3,177.3 155.7,176.5 156.1,176.6 156.4,175.8 156.8,175.9 157.2,175.0 157.6,175.2 157.9,174.3 158.3,174.4 158.7,173.7 159.0,173.5 159.3,172.8 159.6,172.7 159.9,171.9 160.2,171.9 160.5,170.9 160.8,171.1 161.1,170.2 161.4,170.3 161.7,169.2 162.0,169.4 162.3,168.3 162.6,168.6 162.9,167.6 163.2,167.8 163.5,166.8 163.7,166.9 164.0,165.8 164.2,165.8 164.5,164.8 164.7,165.0 165.0,163.8 165.2,164.2 165.5,162.9 165.8,163.1 166.0,162.1 166.3,162.2 166.5,161.1 166.8,161.2 167.0,160.2 167.3,160.4 167.5,159.2 167.8,159.7 168.1,158.5 168.4,158.8 168.7,157.7 168.9,157.9 169.2,156.8 169.5,157.0 169.8,155.8 170.1,156.1 170.4,155.1 170.7,155.4 170.9,154.1 171.2,154.6 171.5,153.4 171.7,153.5 171.8,152.4 172.0,152.5 172.2,151.5 172.3,151.5 172.5,150.3 172.7,150.5 172.8,149.3 173.0,149.5 173.1,148.4 173.3,148.6 173.7,147.5 174.1,147.8 174.5,146.8 174.8,147.0 175.2,145.8 175.6,146.1 176.0,145.2 176.4,146.2 176.7,145.9 177.1,146.9 177.4,146.4 177.8,147.6 178.1,146.4 178.5,146.9 178.8,145.8 179.2,145.9 179.5,145.0 179.8,145.2 180.2,143.9 180.5,144.2 180.8,143.3 181.2,143.3 181.5,142.4 181.9,142.6 182.4,141.5 182.8,142.1 183.2,140.9 183.7,141.4 184.1,140.2 184.6,140.8 185.0,139.7 185.4,140.0 185.7,138.8 186.1,139.1 186.5,137.8 186.9,138.1 187.2,137.2 187.6,137.5 187.9,136.2 188.2,136.4 188.5,135.4 188.8,135.5 189.1,134.3 189.3,134.7 189.6,133.4 189.9,133.8 190.2,132.6 190.5,133.1 190.8,131.8 191.2,132.2 191.5,131.1 191.8,131.3 192.2,130.2 192.5,130.4 192.8,129.4 193.2,129.8 193.5,128.6 193.9,129.1 194.2,128.0 194.6,128.4 194.9,127.2 195.3,127.6 195.7,126.5 196.0,126.9 196.4,125.8 196.7,125.9 197.0,124.8 197.3,125.2 197.7,124.0 198.0,124.2 198.3,123.2 198.6,123.5 198.9,122.2 199.2,122.7 199.5,121.4 199.9,121.9 200.2,120.7 200.5,121.1 200.8,119.8 201.3,120.6 201.9,119.3 202.4,120.3 203.0,118.9 203.5,120.4 204.0,119.4 204.4,120.6 204.9,119.9 205.4,121.2 205.9,120.7 206.3,121.1 206.6,119.8 207.0,120.3 207.3,119.3 207.7,119.3 208.1,118.6 208.4,118.5 208.8,118.0" fill="none" stroke="#ff00ff" stroke-width="2.2" stroke-linejoin="round" stroke-linecap="round"/>
<polyline points="130.1,217.7 130.5,217.6 130.9,217.5 131.3,217.1 131.7,216.3 132.1,216.0 132.6,215.8 132.9,215.8 133.4,215.4 133.8,215.1 134.2,214.8 134.6,214.6 135.0,214.3 135.4,214.2 135.8,213.6 136.2,213.3 136.6,212.6 137.0,212.4 137.4,212.2 137.8,211.8 138.2,211.8 138.7,211.7 139.1,211.1 139.5,210.8 139.9,210.5 140.3,210.3 140.7,209.9 141.1,209.8 141.6,209.5 142.0,209.2 142.4,209.0 142.8,208.5 143.3,208.3 143.7,208.3 144.1,207.6 144.6,207.5 145.0,207.1 145.4,206.7 145.8,206.4 146.3,206.0 146.7,205.9 147.1,205.5 147.6,205.2 148.0,205.2 148.4,204.7 148.9,204.7 149.3,204.2 149.8,204.1 150.2,203.5 150.7,203.4 151.1,203.6 151.6,202.9 152.0,202.7 152.5,202.3 152.9,202.1 153.3,201.4 153.8,201.2 154.2,201.2 154.7,201.0 155.1,200.5 155.6,200.2 156.0,199.9 156.5,199.7 156.9,199.2 157.4,198.8 157.8,198.8 158.3,198.2 158.7,198.1 159.2,197.8 159.6,197.5 160.0,197.5 160.5,197.1 160.9,196.9 161.3,196.4 161.8,196.2 162.2,196.2 162.7,195.9 163.1,195.5 163.6,195.4 164.0,195.1 164.4,194.8 164.9,194.8 165.3,194.2 165.7,194.1 166.2,193.8 166.6,193.4 167.1,192.9 167.5,193.1 167.9,192.7 168.4,192.4 168.8,192.1 169.2,191.9 169.7,191.4 170.1,191.4 170.6,190.7 171.0,190.8 171.4,190.2 171.8,190.1 172.2,190.0 172.7,189.5 173.1,189.2 173.5,189.1 173.9,188.6 174.3,188.3 174.7,188.0 175.1,188.1 175.5,187.6 175.9,187.3 176.4,186.7 176.8,186.7 177.2,186.0 177.6,186.1 178.0,185.5 178.4,185.8 178.8,184.8 179.3,185.0 179.7,184.7 180.1,183.8 180.5,183.8 180.9,183.9 181.3,183.5 181.7,182.7 182.2,182.6 182.6,182.2 183.0,181.9 183.4,181.7 183.8,181.9 184.2,181.2 184.6,180.8 185.0,180.5 185.4,180.4 185.8,180.1 186.2,179.4 186.6,179.6 187.0,178.8 187.4,178.7 187.8,178.5 188.2,178.4 188.6,177.7 189.0,177.5 189.4,177.4 189.8,177.0 190.2,176.8 190.7,176.4 191.1,176.0 191.5,175.8 191.9,175.5 192.3,175.0 192.7,175.0 193.1,174.0 193.5,173.9 193.9,174.1 194.3,173.5 194.7,173.0 195.1,172.9 195.5,172.8 195.9,172.1 196.3,172.1 196.7,171.6 197.1,171.3 197.5,171.0 197.9,170.9 198.3,170.2 198.8,170.1 199.2,170.0 199.6,169.3 200.0,169.0 200.4,169.1 200.9,168.7 201.3,168.4 201.7,168.2 202.1,167.7 202.6,168.1 203.0,167.1 203.4,166.9 203.8,166.4 204.2,166.3 204.7,166.4 205.1,165.8 205.5,165.7 205.9,165.2 206.3,165.3 206.8,164.7 207.2,164.2 207.6,164.3 208.0,163.8 208.5,163.7 208.9,163.3 209.3,163.0 209.7,162.7 210.1,162.2 210.6,161.8 211.0,162.0 211.4,161.4 211.8,161.2 212.3,160.8 212.7,160.1 213.1,160.0 213.5,160.2 213.9,159.5 214.4,159.2 214.8,158.7 215.2,158.6 215.6,158.3 216.1,158.1 216.5,157.8 216.9,157.4 217.3,157.1 217.8,156.9 218.2,156.7 218.7,156.4 219.1,156.5 219.6,155.9 220.0,155.6 220.4,155.2 220.9,155.2 221.3,154.5 221.8,154.1 222.2,154.0 222.7,154.0 223.1,153.4 223.6,153.6 224.0,153.1" fill="none" stroke="#808000" stroke-width="2.4" stroke-linejoin="round" stroke-linecap="round"/>
<polyline points="330.6,173.8 331.1,172.0 331.6,173.0 332.2,172.9 332.7,171.5 333.2,172.2 333.8,172.3 334.3,171.8 334.8,171.3 335.3,170.7 335.9,170.4 336.4,170.1 336.9,169.8 337.4,169.8 337.9,169.0 338.5,168.9 339.0,168.6 339.5,167.1 340.1,168.0 340.6,167.4 341.1,167.4 341.6,167.2 342.1,166.8 342.7,166.1 343.2,165.9 343.8,165.4 344.3,165.3 344.9,164.9 345.4,164.5 346.0,164.5 346.5,164.1 347.1,163.7 347.6,163.8 348.2,163.7 348.8,163.0 349.3,163.2 349.9,162.1 350.4,162.8 351.0,162.1 351.6,161.3 352.1,161.5 352.7,161.0 353.2,160.7 353.8,160.2 354.3,160.8 354.9,160.3 355.4,159.7 356.0,158.7 356.6,159.2 357.1,158.6 357.6,158.8 358.2,157.9 358.8,158.1 359.3,157.7 359.9,157.6 360.4,156.4 360.9,156.5 361.5,156.8 362.1,156.4 362.6,156.8 363.1,155.8 363.7,155.2 364.2,155.4 364.8,155.3 365.4,155.1 365.9,153.5 366.4,153.8 367.0,153.8 367.6,153.6 368.1,153.3 368.6,152.5 369.2,151.9 369.7,152.0 370.3,152.4 370.8,152.0 371.4,151.6 371.9,150.8 372.4,151.2 373.0,151.0 373.5,150.8 374.1,150.4 374.6,150.1 375.2,150.2 375.7,149.7 376.3,149.5 376.8,147.9 377.4,148.8 377.9,148.4 378.2,147.7 378.6,148.4 379.0,147.3 379.3,148.3 379.7,146.1 380.0,147.1 380.4,146.7 380.7,147.4 381.1,146.3 381.4,147.1 381.8,145.8 382.2,146.5 382.5,144.2 382.9,146.2 383.2,145.0 383.6,145.9 383.9,144.3 384.3,145.4 384.6,144.3 385.0,145.5 385.4,143.9 385.7,144.9 386.1,143.2 386.4,144.7 386.8,143.1 387.1,144.3 387.5,142.5 387.9,143.6 388.2,141.9 388.6,143.1 388.9,141.4 389.3,142.8 389.6,140.9 390.0,142.0 390.4,140.6 390.7,142.1 391.1,140.2 391.4,142.0 391.8,140.2 392.1,141.5 392.5,139.3 392.9,140.8 393.2,138.9 393.6,140.6 393.9,139.0 394.3,140.0 394.6,138.2 395.0,139.1 395.3,137.8 395.7,139.7 396.0,137.0 396.4,139.0 396.7,137.0 397.1,138.6 397.4,136.8 397.8,137.9 398.1,136.5 398.4,137.9 398.8,134.6 399.1,137.8 399.5,135.7 399.8,137.1 400.2,134.9 400.5,136.4 400.9,134.2 401.2,136.6 401.6,134.4 401.9,135.8 402.2,133.0 402.6,135.5 402.9,133.6 403.3,135.0 403.6,132.7 404.0,134.0 404.3,132.2 404.7,134.1 405.0,132.3 405.3,134.0 405.7,131.1 406.0,133.2 406.3,130.9 406.7,132.1 407.0,130.9 407.4,132.2 407.7,130.1 408.0,131.9 408.4,129.8 408.7,131.3 409.0,129.7 409.4,131.4 409.7,129.2 410.0,130.4 410.4,128.6 410.7,130.1 411.0,127.9 411.4,129.6 411.7,127.5 412.1,129.7 412.4,127.0 412.7,128.9 413.1,126.6 413.4,128.3 413.7,126.1 414.1,128.2 414.4,125.5 414.7,127.3 415.1,124.6 415.4,127.0 415.8,124.5 416.1,126.8 416.5,124.2 416.8,125.5 417.1,124.1 417.5,125.9 417.8,123.4 418.2,125.1 418.5,123.1 418.9,124.6 419.2,123.2 419.5,124.2 419.9,122.4 420.2,123.9 420.6,122.2 420.9,123.3 421.3,121.9 421.6,123.0 421.9,121.2 422.3,122.4 422.6,121.0 423.0,121.9 423.3,120.1 423.7,121.6 424.0,119.6 424.3,120.1 424.7,119.5 425.0,120.5 425.4,119.1 425.7,120.1 426.1,118.5 426.4,119.0" fill="none" stroke="#000" stroke-width="1.7" stroke-linejoin="round" stroke-linecap="round"/>
<polyline points="344.9,184.2 345.3,183.7 345.8,183.8 346.2,183.3 346.6,183.1 347.0,182.8 347.5,182.6 347.9,182.3 348.3,182.0 348.7,181.4 349.2,181.6 349.6,180.7 350.0,181.0 350.4,180.5 350.9,180.3 351.3,179.9 351.8,179.7 352.2,179.6 352.7,179.3 353.1,178.9 353.6,179.0 354.1,178.6 354.5,178.6 355.0,178.2 355.5,177.9 355.9,177.8 356.4,177.7 356.8,177.2 357.3,177.0 357.7,177.1 358.2,176.5 358.6,176.3 359.1,176.2 359.6,175.8 360.0,175.4 360.5,175.3 360.9,175.3 361.4,175.2 361.8,174.9 362.3,174.7 362.7,174.1 363.1,174.1 363.5,173.9 363.9,173.3 364.4,173.2 364.8,172.8 365.2,172.5 365.6,172.3 366.0,171.7 366.3,171.7 366.6,170.8 366.9,170.5 367.2,170.0 367.5,169.6 367.8,169.2 368.2,168.9 368.7,168.9 369.1,168.5 369.6,168.2 370.1,167.6 370.5,167.7 370.9,167.5 371.4,167.2 371.9,166.9 372.3,166.9 372.8,166.8 373.2,166.7 373.6,166.3 374.0,165.7 374.4,165.6 374.9,165.0 375.3,165.1 375.7,164.7 376.1,164.3 376.6,164.1 377.0,163.8 377.4,163.4 377.8,163.4 378.2,163.4 378.6,162.8 379.1,162.5 379.5,162.1 379.9,161.7 380.3,161.8 380.7,161.1 381.1,160.9 381.6,160.6 382.0,160.4 382.4,160.0 382.8,159.8 383.2,159.2 383.5,159.0 383.9,158.9 384.3,158.2 384.7,157.9 385.1,157.9 385.4,157.4 385.8,157.2 386.2,156.3 386.6,156.4 387.0,155.8 387.3,155.5 387.7,155.4 388.1,155.2 388.5,154.5 388.9,154.2 389.3,154.0 389.7,153.7 390.1,153.2 390.5,153.5 390.9,152.9 391.4,152.4 391.8,152.1 392.2,152.2 392.6,151.9 393.0,151.2 393.4,151.0 393.8,150.8 394.2,150.1 394.6,149.9 395.0,149.9 395.4,149.3 395.8,149.0 396.1,148.5 396.5,148.3 396.9,148.2 397.3,147.6 397.7,147.2 398.1,147.0 398.4,147.1 398.8,146.5 399.2,146.1 399.6,145.8 400.0,145.6 400.4,145.2 400.8,144.6 401.1,144.6 401.5,144.2 401.9,144.0 402.3,143.4 402.7,143.4 403.1,142.9 403.4,142.4 403.8,142.5 404.2,141.9 404.6,141.7 405.0,141.3 405.4,141.2 405.7,140.9 406.1,140.5 406.5,140.2 406.9,139.5 407.3,139.2 407.7,139.1 408.1,138.6 408.4,138.5 408.8,138.2 409.2,137.6 409.6,137.3 409.9,136.9 410.2,136.6 410.6,136.3 410.9,136.1 411.3,135.8 411.6,135.1 412.0,134.8 412.3,134.8 412.7,134.3 413.0,133.8 413.4,133.1 413.7,132.9 414.1,132.7 414.4,132.2 414.8,132.3 415.1,131.6 415.5,131.3 415.8,130.7 416.2,130.3 416.5,130.0 416.9,129.7 417.2,129.4 417.6,129.1 417.9,128.7 418.3,128.5 418.6,127.8 418.9,127.6 419.3,127.3 419.6,127.1 420.0,126.5 420.4,126.2 420.8,125.7 421.1,125.5 421.5,125.2 421.9,124.7 422.2,124.3 422.6,124.0 423.0,123.8 423.4,123.2 423.7,123.1 424.1,122.6 424.5,122.6 424.9,122.2 425.2,121.5 425.6,121.2 426.0,121.3 426.3,120.7 426.7,120.3 427.1,119.8 427.4,119.5 427.8,119.3 428.2,118.9 428.6,118.4 429.0,118.4 429.4,117.9 429.8,117.4 430.2,117.4 430.6,116.9 431.0,116.8 431.4,116.2 431.9,116.1 432.3,115.5 432.7,115.5 433.1,114.9 433.5,114.8 433.9,114.1 434.3,114.2 434.7,114.0 435.1,113.6 435.5,113.4 435.9,112.8 436.3,112.8 436.7,112.5 437.1,111.8 437.5,111.6 437.9,111.3 438.4,111.1 438.8,110.8 439.2,110.1 439.6,110.2 440.0,109.8 440.4,109.4 440.8,109.3 441.2,108.9" fill="none" stroke="#ff0000" stroke-width="2.0" stroke-linejoin="round" stroke-linecap="round"/>
<polyline points="359.7,194.3 360.1,193.9 360.5,193.9 361.0,193.4 361.4,193.3 361.8,192.8 362.2,192.7 362.6,192.3 363.1,192.1 363.5,191.7 363.9,191.6 364.3,191.1 364.7,191.0 365.2,190.5 365.6,190.4 366.0,190.0 366.4,189.9 366.9,189.4 367.3,189.4 367.7,188.9 368.1,188.8 368.5,188.3 369.0,188.3 369.4,187.8 369.8,187.8 370.2,187.3 370.7,187.2 371.1,186.8 371.5,186.7 371.9,186.2 372.4,186.1 372.8,185.7 373.2,185.6 373.7,185.2 374.1,185.1 374.6,184.7 375.0,184.7 375.5,184.3 375.9,184.2 376.4,183.8 376.9,183.8 377.3,183.4 377.8,183.3 378.2,182.9 378.7,182.9 378.8,182.2 378.9,181.9 379.0,181.1 379.1,180.8 379.2,180.1 379.3,179.8 379.4,179.1 379.5,178.8 379.6,178.1 379.7,177.8 379.8,177.1 379.9,176.8 380.0,176.1 380.1,175.8 380.2,175.1 380.3,174.8 380.4,174.1 380.5,173.8 380.9,173.2 381.2,173.1 381.6,172.5 382.0,172.3 382.4,171.8 382.7,171.6 383.1,171.0 383.5,170.8 383.8,170.3 384.2,170.1 384.6,169.6 385.0,169.3 385.4,168.8 385.7,168.6 386.1,168.0 386.5,167.8 386.9,167.3 387.3,167.1 387.6,166.5 388.0,166.4 388.4,165.7 388.8,165.6 389.1,165.0 389.4,164.8 389.8,164.2 390.1,164.1 390.4,163.5 390.7,163.3 391.1,162.7 391.4,162.5 391.7,161.8 392.0,161.7 392.3,161.1 392.7,160.9 393.0,160.3 393.3,160.1 393.6,159.5 393.9,159.3 394.2,158.6 394.4,158.4 394.7,157.8 395.0,157.6 395.3,156.9 395.6,156.7 395.9,156.1 396.2,155.9 396.6,155.2 396.9,155.0 397.2,154.4 397.5,154.2 397.8,153.5 398.1,153.3 398.4,152.7 398.8,152.4 399.1,151.8 399.4,151.6 399.7,150.9 400.0,150.7 400.2,150.0 400.5,149.8 400.8,149.1 401.1,148.9 401.4,148.2 401.6,147.9 401.9,147.3 402.2,147.0 402.5,146.3 402.7,146.1 403.0,145.4 403.3,145.2 403.5,144.5 403.8,144.3 404.0,143.6 404.2,143.3 404.4,142.7 404.7,142.4 404.9,141.8 405.1,141.5 405.4,140.8 405.6,140.5 405.8,139.9 406.0,139.7 406.2,138.9 406.4,138.7 406.7,138.0 406.9,137.8 407.1,137.0 407.3,136.8 407.5,136.1 407.7,135.8 407.9,135.1 408.2,134.9 408.4,134.2 408.6,133.9 408.8,133.3 409.0,132.9 409.2,132.3 409.4,132.0 409.7,131.3 409.9,131.0 410.1,130.3 410.3,130.2 410.4,129.4 410.6,129.2 410.7,128.4 410.8,128.1 410.9,127.4 411.1,127.2 411.2,126.5 411.4,126.2 411.5,125.5 411.6,125.2 411.7,124.5 411.9,124.3 412.0,123.6 412.1,123.3 412.3,122.5 412.4,122.3 412.5,121.6 412.6,121.4 412.8,120.6 412.9,120.4 413.1,119.7 413.2,119.4 413.3,118.7 413.4,118.4 413.6,117.7 413.7,117.4 413.8,116.7 414.0,116.5 414.1,115.7 414.2,115.5 414.4,114.8 414.5,114.5 414.6,113.8 414.8,113.5 414.9,112.8 415.0,112.6 415.1,111.9 415.3,111.6 415.4,110.9 415.5,110.7 415.7,109.9 415.8,109.7 415.9,109.0 416.1,108.7 416.2,108.0 416.4,107.7 416.5,107.0 416.6,106.8 416.8,106.0 416.9,105.9 417.1,105.1 417.2,104.8 417.3,104.1 417.5,103.9 417.6,103.2 417.7,103.0 417.9,102.2 418.0,102.0 418.2,101.2 418.3,101.1 418.4,100.3 418.6,100.1 418.7,99.3 418.9,99.2 419.0,98.3 419.1,98.2 419.3,97.4 419.4,97.3 419.5,96.3 419.7,96.3 419.8,95.5 419.9,95.3 420.1,94.5 420.2,94.3 420.4,93.5 420.5,93.4 420.6,92.4 420.8,92.4 420.9,91.6 421.1,91.5 421.2,90.5 421.4,90.4 421.5,89.5 421.7,89.5 421.8,88.5 422.0,88.5 422.1,87.6 422.2,87.6 422.4,86.5 422.6,86.6 422.7,85.6 422.8,85.6 423.0,84.7 423.1,84.5 423.3,83.6 423.4,83.5 423.6,82.6 423.7,82.6 423.9,81.6 424.0,81.7 424.1,80.7 424.3,80.7 424.4,79.7 424.6,79.7 424.8,78.7 424.9,78.7 425.1,77.8 425.2,77.7 425.4,76.8 425.5,76.7 425.6,75.7 425.8,75.7 425.9,74.8 426.1,74.7 426.2,73.9 426.4,73.7 426.6,72.9 426.7,72.8 426.9,71.9 427.0,71.8 427.1,70.8 427.3,70.9 427.4,70.0 427.6,69.8 427.8,69.0 427.9,68.8 428.1,67.9 428.2,67.9 428.4,67.0 428.5,66.9 428.7,66.1 428.8,66.1 429.0,65.1 429.1,65.0 429.3,64.0 429.4,64.0 429.6,63.2 429.8,63.0 429.9,62.1 430.1,62.2 430.2,61.3 430.4,61.2 430.5,60.2 430.7,60.2 430.8,59.2 430.9,59.2 431.0,58.2 431.1,58.2 431.2,57.3 431.4,57.2 431.5,56.4 431.6,56.2 431.7,55.3 431.8,55.2 431.9,54.2 432.0,54.3 432.2,53.2 432.3,53.4 432.4,52.2 432.5,52.2 432.7,51.1 432.8,51.2 432.9,50.0 433.1,50.4 433.4,49.1 433.6,49.3 433.8,47.8 434.0,48.7 434.3,47.1 434.5,47.8 434.9,46.1 435.2,47.2 435.6,44.9 436.0,46.6 436.5,45.0 437.0,47.3 437.5,44.9 438.0,48.0 438.5,45.3 439.0,47.2 439.5,44.9 440.0,47.3 440.5,44.8 441.0,47.3 441.5,45.2 442.0,47.6 442.4,45.2 442.8,47.0 443.2,44.8 443.6,46.0 444.0,44.3 444.3,45.5 444.6,43.2 444.9,44.4 445.2,42.6 445.5,43.7 445.8,41.8 446.1,42.6 446.7,41.6 447.4,43.3 448.0,41.5 448.4,42.8 448.7,41.0 449.1,42.2 449.4,40.1 449.8,41.1 450.1,39.4 450.5,40.2 451.0,39.7 451.5,40.7 452.0,40.4 452.5,41.3 452.8,41.1 453.1,42.2 453.5,41.8 453.8,43.2 454.1,43.0 454.3,44.0 454.5,43.8 454.6,45.0 454.8,44.8 455.0,45.9 455.2,45.8 455.4,46.9 455.6,46.8 455.8,47.7 455.9,47.9 456.1,48.7 456.3,48.8 456.7,49.5 457.2,49.4 457.6,50.0 458.1,50.1 458.5,50.5" fill="none" stroke="#0000ff" stroke-width="2.0" stroke-linejoin="round" stroke-linecap="round"/>
<polyline points="375.1,204.7 375.6,204.4 376.0,204.3 376.5,203.9 376.9,203.9 377.4,203.5 377.8,203.4 378.3,203.0 378.8,203.0 379.2,202.6 379.7,202.6 380.1,202.1 380.6,202.1 381.0,201.7 381.5,201.6 381.9,201.2 382.4,201.2 382.9,200.7 383.3,200.7 383.8,200.2 384.2,200.2 384.7,199.6 385.1,199.6 385.6,199.1 386.1,199.1 386.5,198.6 387.0,198.6 387.4,198.1 387.9,198.0 388.3,197.6 388.8,197.5 389.2,196.9 389.6,196.8 390.0,196.3 390.4,196.2 390.9,195.7 391.2,195.6 391.7,195.0 392.1,194.8 392.5,194.3 392.9,194.2 393.3,193.7 393.4,193.4 393.6,192.7 393.7,192.4 393.9,191.7 394.0,191.4 394.1,190.7 394.3,190.5 394.4,189.8 394.6,189.5 394.7,188.8 394.8,188.5 395.0,187.8 395.1,187.5 395.3,186.8 395.5,186.5 395.7,185.7 395.9,185.4 396.2,184.8 396.4,184.4 396.6,183.7 396.8,183.4 397.0,182.7 397.4,182.6 397.8,182.0 398.2,182.0 398.6,181.4 399.1,181.3 399.4,180.7 399.9,180.7 400.3,180.1 400.7,179.9 401.1,179.4 401.5,179.3 401.8,178.7 402.1,178.6 402.5,177.9 402.8,177.7 403.1,177.1 403.4,176.9 403.8,176.2 404.1,176.2 404.4,175.5 404.7,175.3 405.0,174.7 405.3,174.5 405.7,173.9 406.0,173.6 406.3,173.1 406.6,172.8 406.9,172.2 407.2,172.1 407.5,171.5 407.9,171.2 408.2,170.6 408.5,170.4 408.8,169.8 409.2,169.7 409.5,169.0 409.9,168.9 410.3,168.3 410.6,168.2 411.0,167.6 411.4,167.4 411.7,166.9 412.1,166.7 412.5,166.1 412.8,166.0 413.2,165.4 413.6,165.2 413.9,164.6 414.3,164.5 414.6,163.9 415.0,163.8 415.4,163.2 415.7,163.0 416.1,162.4 416.4,162.2 416.8,161.6 417.1,161.4 417.5,160.9 417.7,160.6 417.9,159.9 418.1,159.6 418.3,158.9 418.5,158.6 418.7,157.9 418.9,157.6 419.1,156.9 419.3,156.6 419.5,155.9 419.7,155.6 419.9,154.9 420.0,154.6 420.2,153.9 420.4,153.6 420.6,152.9 420.8,152.6 420.9,151.9 421.1,151.6 421.3,150.9 421.5,150.6 421.6,149.9 421.8,149.6 422.0,148.9 422.2,148.6 422.4,147.9 422.6,147.7 422.8,147.0 423.0,146.7 423.2,146.1 423.4,145.8 423.6,145.1 423.8,144.9 424.0,144.2 424.2,143.9 424.4,143.2 424.5,143.0 424.7,142.2 424.9,141.9 425.0,141.2 425.2,141.0 425.4,140.2 425.5,140.0 425.7,139.3 425.9,139.0 426.0,138.3 426.2,138.0 426.3,137.3 426.5,137.1 426.7,136.3 426.8,136.1 427.0,135.4 427.2,135.1 427.4,134.5 427.5,134.2 427.7,133.5 427.9,133.2 428.1,132.6 428.3,132.3 428.4,131.6 428.6,131.3 428.8,130.7 429.0,130.4 429.2,129.7 429.3,129.5 429.5,128.8 429.7,128.5 429.9,127.8 430.1,127.5 430.3,126.8 430.5,126.5 430.7,125.9 430.9,125.6 431.1,124.9 431.3,124.6 431.5,123.8 431.7,123.6 431.9,122.9 432.1,122.6 432.3,121.9 432.5,121.6 432.7,120.9 432.9,120.6 433.1,120.0 433.3,119.7 433.5,119.0 433.8,118.8 433.9,118.1 434.2,117.8 434.4,117.1 434.6,116.8 434.8,116.1 435.0,115.9 435.2,115.2 435.4,114.9 435.6,114.2 435.7,114.0 435.9,113.2 436.1,113.0 436.3,112.3 436.4,112.0 436.6,111.3 436.8,111.0 437.0,110.3 437.1,110.1 437.3,109.3 437.5,109.1 437.8,108.4 438.0,108.2 438.3,107.5 438.5,107.4 438.8,106.6 439.0,106.5 439.3,105.7 439.5,105.6 439.8,104.8 439.9,104.7 440.1,103.7 440.2,103.8 440.4,102.9 440.5,102.7 440.6,101.8 440.8,101.7 440.9,100.9 441.1,100.8 441.2,99.9 441.3,99.8 441.5,98.8 441.6,98.8 441.7,97.8 441.9,97.8 442.0,96.9 442.2,96.8 442.3,95.9 442.4,95.9 442.6,94.9 442.7,94.8 442.8,93.8 442.9,93.8 443.1,93.0 443.2,92.9 443.3,92.0 443.4,91.9 443.6,90.9 443.7,90.8 443.8,89.9 443.9,89.9 444.1,89.0 444.2,89.0 444.3,88.0 444.4,87.9 444.6,86.9 444.7,86.9 444.8,86.0 445.0,86.0 445.1,85.1 445.3,85.0 445.4,84.0 445.6,84.0 445.8,83.0 445.9,83.0 446.1,82.0 446.2,82.0 446.4,81.0 446.6,81.0 446.8,80.1 447.0,80.0 447.2,79.0 447.4,79.1 447.6,78.1 447.8,78.2 447.9,77.0 448.1,77.0 448.3,75.9 448.5,76.0 448.7,75.1 448.9,75.1 449.1,73.9 449.3,74.2 449.5,73.0 449.7,73.2 449.9,72.0 450.1,72.5 450.3,71.0 450.5,71.5 450.7,70.0 450.9,70.4 451.1,69.0 451.3,69.4 451.5,67.9 451.8,68.9 452.0,67.0 452.2,67.8 452.4,66.1 452.7,67.4 452.9,65.2 453.1,66.3 453.4,63.9 453.6,65.4 453.8,62.7 454.2,64.5 454.6,62.5 455.0,64.0 455.4,61.1 455.8,63.5 456.2,60.3 456.6,63.1 457.1,59.2 457.5,62.1 457.9,58.6 458.4,61.9 458.8,58.7 459.2,60.5 459.6,58.1 460.1,59.7 460.5,56.8 460.9,59.2 461.3,56.6 461.6,58.4 462.0,55.7 462.4,57.0 462.7,54.8 463.1,56.8 463.5,53.8 463.9,56.1 464.2,53.3 464.6,55.3 465.0,52.7 465.4,54.1 465.7,51.8 466.1,53.3 466.4,51.5 466.7,52.6 467.0,50.3 467.3,51.5 467.6,49.8 467.9,50.5 468.2,48.9 468.4,49.7 468.7,48.3 468.9,48.9 469.2,47.6 469.4,47.9 469.7,46.5 470.1,47.7 470.4,47.8 470.8,48.7 471.2,48.7 471.4,49.6 471.6,49.7 471.8,50.6 472.0,50.8 472.2,51.7 472.4,51.7 472.6,52.7 472.7,52.9 472.8,53.9 472.9,53.9 473.1,54.8 473.2,55.0 473.3,55.9 473.4,56.0 474.1,56.4 474.8,56.0 475.3,56.1 475.8,55.6 476.3,55.4" fill="none" stroke="#008080" stroke-width="2.0" stroke-linejoin="round" stroke-linecap="round"/>
<polyline points="391.0,216.0 391.5,215.8 392.0,215.7 392.6,214.9 393.1,214.8 393.6,214.7 394.1,214.2 394.6,213.8 395.1,213.4 395.6,212.8 396.2,212.4 396.7,212.0 397.2,212.2 397.7,211.7 398.2,211.2 398.8,211.2 399.3,210.6 399.8,210.7 400.3,210.7 400.8,209.9 401.4,209.3 401.9,208.8 402.4,209.5 402.9,208.7 403.5,207.9 404.0,208.3 404.5,207.2 405.1,207.3 405.6,207.0 406.1,206.7 406.6,206.2 407.2,206.9 407.7,205.8 408.2,205.7 408.8,205.3 409.3,204.5 409.8,204.3 410.2,204.1 410.7,203.8 411.1,202.9 411.6,202.6 412.0,201.9 412.5,201.7 413.0,200.3 413.4,200.7 413.9,199.9 414.3,199.4 414.8,198.3 415.2,198.3 415.7,198.4 416.1,198.4 416.6,197.1 417.0,196.7 417.4,196.6 417.8,196.1 418.3,195.4 418.7,195.1 419.1,194.6 419.5,194.4 420.0,194.0 420.4,193.9 420.8,193.2 421.2,192.7 421.7,192.1 422.1,191.9 422.6,190.9 423.0,191.4 423.5,190.4 423.9,190.3 424.4,189.2 424.8,189.3 425.3,188.7 425.8,188.1 426.2,187.5 426.7,187.0 427.1,187.3 427.6,186.7 428.0,186.0 428.5,185.6 429.0,184.8 429.4,184.1 429.9,183.7 430.3,183.6 430.8,183.3 431.2,182.6 431.7,182.7 432.2,182.2 432.6,181.7 433.1,180.7 433.5,180.7 434.0,180.3 434.4,179.6 434.9,178.8 435.3,179.6 435.8,178.8 436.2,178.0 436.6,178.1 437.1,177.5 437.5,176.8 438.0,176.3 438.4,176.0 438.9,175.7 439.3,174.8 439.7,174.3 440.2,174.0 440.6,172.6 441.0,172.9 441.3,172.2 441.7,171.8 442.1,171.2 442.4,170.8 442.8,170.2 443.2,169.7 443.5,169.1 443.9,168.7 444.3,167.9 444.6,167.8 445.0,166.5 445.4,166.6 445.7,166.1 446.1,165.1 446.5,164.9 446.9,164.9 447.2,164.0 447.6,163.2 448.0,162.1 448.3,162.6 448.7,162.0 449.1,161.7 449.5,161.6 449.8,160.5 450.2,160.0 450.5,159.3 450.9,159.0 451.2,158.5 451.6,158.2 451.9,157.7 452.3,156.8 452.6,156.4 453.0,156.4 453.3,155.2 453.6,155.2 454.0,155.0 454.3,154.2 454.7,153.6 455.0,153.4 455.4,152.6 455.7,152.0 456.1,151.4 456.4,151.3 456.7,150.7 457.0,150.4 457.3,149.3 457.6,148.8 457.8,148.2 458.1,147.9 458.4,147.1 458.7,147.0 459.0,146.3 459.3,145.4 459.6,144.3 459.9,144.1 460.1,144.6 460.4,143.6 460.7,143.1 461.0,142.4 461.3,142.1 461.6,140.9 461.8,140.3 462.1,139.8 462.4,139.8 462.6,139.4 462.9,138.8 463.1,138.1 463.4,137.2 463.7,137.3 463.9,136.4 464.2,135.9 464.5,135.3 464.7,134.7 465.0,134.0 465.2,133.5 465.5,132.8 465.8,132.7 466.0,132.0 466.3,131.8 466.6,130.4 466.8,130.8 467.1,129.8 467.4,129.3 467.6,128.6 467.9,128.0 468.2,127.3 468.4,127.4 468.7,126.6 469.0,126.3 469.2,125.8 469.5,124.8 469.7,124.4 469.9,123.8 470.2,123.6 470.4,122.8 470.6,122.2 470.8,121.8 471.0,121.0 471.3,121.0 471.5,119.6 471.7,119.7 472.0,119.2 472.4,117.9 472.7,118.0 473.0,117.3 473.3,116.9 473.7,115.8 474.0,115.7 474.3,114.8 474.6,114.5 475.0,114.5 475.3,113.5 475.6,112.3 475.9,112.0 476.3,111.5 476.6,111.5 476.9,110.5 477.2,109.6 477.6,109.9 477.9,109.0 478.2,108.5 478.5,107.6 478.8,107.7 479.1,106.7 479.4,105.6 479.7,105.3 480.1,104.8 480.4,104.5 480.7,104.2 481.0,103.2 481.3,102.7 481.6,103.0 481.9,101.8 482.3,101.1 482.6,100.7 483.0,99.8 483.4,99.8 483.7,99.3 484.1,98.3 484.4,98.2 484.8,97.3 485.3,97.1 485.8,96.4 486.2,96.1 486.7,95.5 487.2,95.6 487.7,95.1 488.4,94.9 489.2,94.4 489.9,94.2 490.3,93.6 490.7,93.0" fill="none" stroke="#ff00ff" stroke-width="2.0" stroke-linejoin="round" stroke-linecap="round"/>
<polyline points="408.5,227.5 409.0,227.3 409.5,226.5 410.0,226.6 410.5,226.9 411.1,225.9 411.6,226.4 412.1,225.3 412.6,225.4 413.1,224.2 413.6,224.7 414.1,223.3 414.6,223.6 415.1,223.0 415.6,221.9 416.1,221.9 416.7,222.7 417.2,222.0 417.7,222.1 418.2,221.2 418.7,219.5 419.2,220.6 419.8,219.9 420.3,219.6 420.8,219.3 421.3,218.9 421.9,218.4 422.4,219.1 422.9,218.4 423.4,217.6 424.0,217.4 424.5,217.7 425.0,217.1 425.6,216.7 426.1,215.8 426.6,215.8 427.1,215.2 427.7,214.5 428.2,215.4 428.7,214.6 429.2,214.2 429.8,213.7 430.3,214.1 430.8,214.4 431.4,213.4 431.9,213.2 432.4,211.9 432.9,212.2 433.4,211.8 433.8,212.0 434.3,210.9 434.8,210.1 435.3,210.1 435.8,209.6 436.2,210.1 436.7,209.3 437.2,208.8 437.7,208.3 438.2,208.2 438.6,207.2 439.1,206.7 439.6,205.8 440.1,206.8 440.6,206.1 441.1,205.8 441.5,205.2 442.0,205.5 442.5,203.9 443.0,204.5 443.4,203.2 443.9,203.0 444.4,202.3 444.9,202.5 445.4,201.9 445.9,201.8 446.3,201.0 446.8,200.2 447.3,200.8 447.8,200.7 448.2,200.0 448.7,199.3 449.2,199.1 449.6,197.7 450.1,197.9 450.6,198.2 451.0,197.5 451.5,196.5 452.0,196.9 452.4,196.0 452.9,196.0 453.4,194.7 453.8,194.7 454.3,194.6 454.8,194.2 455.2,193.9 455.7,193.3 456.1,192.8 456.6,192.7 457.1,192.5 457.5,191.0 458.0,191.2 458.5,190.8 458.9,190.6 459.4,190.5 459.9,189.1 460.3,189.5 460.8,188.1 461.3,188.2 461.7,187.9 462.2,187.6 462.7,187.0 463.2,186.7 463.6,186.3 464.1,186.0 464.6,184.9 465.1,184.7 465.6,184.7 466.1,184.8 466.5,184.6 467.0,185.0 467.5,183.4 468.0,182.6 468.4,182.6 468.9,182.4 469.4,181.8 469.9,180.9 470.4,180.9 470.9,180.5 471.3,179.5 471.8,179.2 472.3,179.9 472.8,178.0 473.3,178.7 473.7,178.1 474.2,178.4 474.7,177.7 475.2,176.6 475.6,177.1 476.1,175.9 476.6,176.6 477.0,176.1 477.5,174.9 477.9,174.8 478.4,174.2 478.9,173.2 479.3,173.7 479.8,173.0 480.3,172.8 480.7,172.5 481.2,172.2 481.6,171.6 482.1,170.7 482.6,170.4 483.0,170.1 483.5,169.5 484.0,169.0 484.4,169.5 484.9,168.5 485.4,168.7 485.8,167.1 486.3,167.0 486.7,166.4 487.2,166.0 487.7,165.7 488.1,165.4 488.6,164.9 489.1,165.5 489.6,164.7 490.1,163.7 490.5,163.4 491.0,163.6 491.5,163.1 492.0,162.3 492.4,162.6 492.9,161.2 493.4,161.2 493.9,161.8 494.3,159.5 494.8,160.2 495.3,160.4 495.8,159.5 496.2,158.9 496.7,158.5 497.2,157.6 497.7,157.5 498.1,157.7 498.6,157.0 499.0,156.8 499.5,156.3 499.9,156.1 500.4,154.8 500.9,154.9 501.3,154.5 501.8,154.1 502.2,153.4 502.7,152.4 503.2,153.2 503.6,152.8 504.1,153.1 504.5,151.9 505.0,151.2" fill="none" stroke="#808000" stroke-width="2.2" stroke-linejoin="round" stroke-linecap="round"/>
<text font-size="7.5" text-anchor="middle" dominant-baseline="central" fill="#000" transform="translate(35.25 167.75) scale(1 1.15)">0</text>
<text font-size="7.5" text-anchor="middle" dominant-baseline="central" fill="#000" transform="translate(33.75 145.00) scale(1 1.15)">1</text>
<text font-size="7.5" text-anchor="middle" dominant-baseline="central" fill="#000" transform="translate(31.00 121.25) scale(1 1.15)">2</text>
<text font-size="7.5" text-anchor="middle" dominant-baseline="central" fill="#000" transform="translate(27.75 96.90) scale(1 1.15)">3</text>
<text font-size="7.5" text-anchor="middle" dominant-baseline="central" fill="#000" transform="translate(25.00 70.60) scale(1 1.15)">4</text>
<text font-size="7.5" text-anchor="middle" dominant-baseline="central" fill="#000" transform="translate(23.80 180.20) scale(1 1.15)">1</text>
<text font-size="7.5" text-anchor="middle" dominant-baseline="central" fill="#000" transform="translate(36.50 189.70) scale(1 1.15)">2</text>
<text font-size="7.5" text-anchor="middle" dominant-baseline="central" fill="#000" transform="translate(50.60 200.40) scale(1 1.15)">3</text>
<text font-size="7.5" text-anchor="middle" dominant-baseline="central" fill="#000" transform="translate(64.70 210.90) scale(1 1.15)">4</text>
<text font-size="7.5" text-anchor="middle" dominant-baseline="central" fill="#000" transform="translate(80.50 222.40) scale(1 1.15)">5</text>
<text font-size="7.5" text-anchor="middle" dominant-baseline="central" fill="#000" transform="translate(96.60 234.40) scale(1 1.15)">6</text>
<text font-size="8" text-anchor="middle" dominant-baseline="central" fill="#000" transform="translate(153.20 242.70) scale(1 1.18)">0.0</text>
<text font-size="8" text-anchor="middle" dominant-baseline="central" fill="#000" transform="translate(170.30 230.80) scale(1 1.18)">0.5</text>
<text font-size="8" text-anchor="middle" dominant-baseline="central" fill="#000" transform="translate(187.00 219.30) scale(1 1.18)">1.0</text>
<text font-size="8" text-anchor="middle" dominant-baseline="central" fill="#000" transform="translate(202.50 208.20) scale(1 1.18)">1.5</text>
<text font-size="8" text-anchor="middle" dominant-baseline="central" fill="#000" transform="translate(217.30 198.30) scale(1 1.18)">2.0</text>
<text font-size="8" text-anchor="middle" dominant-baseline="central" fill="#000" transform="translate(232.10 188.10) scale(1 1.18)">2.5</text>
<text font-size="8" text-anchor="middle" dominant-baseline="central" fill="#000" transform="translate(245.30 178.50) scale(1 1.18)">3.0</text>
<text font-size="9.5" text-anchor="middle" dominant-baseline="central" fill="#000" transform="translate(12.30 110.80) rotate(-95.8)">Intensity (µW)</text>
<text font-size="9.6" text-anchor="middle" dominant-baseline="central" fill="#000" transform="translate(55.30 213.80) rotate(36.9)">channel No</text>
<text font-size="8.0" text-anchor="middle" dominant-baseline="central" fill="#000" transform="translate(217.30 218.20) rotate(-38)">Ice thikness in mm</text>
<text font-size="7.3" text-anchor="middle" dominant-baseline="central" fill="#000" transform="matrix(0.9613 -0.2756 0.0695 0.8955 309.80 177.00)">0.0</text>
<text font-size="7.3" text-anchor="middle" dominant-baseline="central" fill="#000" transform="matrix(0.9613 -0.2756 0.0695 0.8955 306.30 165.20)">0.2</text>
<text font-size="7.3" text-anchor="middle" dominant-baseline="central" fill="#000" transform="matrix(0.9613 -0.2756 0.0695 0.8955 306.20 151.20)">0.4</text>
<text font-size="7.3" text-anchor="middle" dominant-baseline="central" fill="#000" transform="matrix(0.9613 -0.2756 0.0695 0.8955 305.10 138.10)">0.6</text>
<text font-size="7.3" text-anchor="middle" dominant-baseline="central" fill="#000" transform="matrix(0.9613 -0.2756 0.0695 0.8955 303.50 122.90)">0.8</text>
<text font-size="7.3" text-anchor="middle" dominant-baseline="central" fill="#000" transform="matrix(0.9613 -0.2756 0.0695 0.8955 301.80 108.20)">1.0</text>
<text font-size="7.3" text-anchor="middle" dominant-baseline="central" fill="#000" transform="matrix(0.9613 -0.2756 0.0695 0.8955 300.20 93.60)">1.2</text>
<text font-size="7.3" text-anchor="middle" dominant-baseline="central" fill="#000" transform="matrix(0.9613 -0.2756 0.0695 0.8955 298.50 78.80)">1.4</text>
<text font-size="7.3" text-anchor="middle" dominant-baseline="central" fill="#000" transform="matrix(0.9613 -0.2756 0.0695 0.8955 297.00 63.10)">1.6</text>
<text font-size="8.3" text-anchor="middle" dominant-baseline="central" fill="#000" transform="matrix(0.3420 -0.9397 0.7048 0.2565 309.60 183.10)">1</text>
<text font-size="8.3" text-anchor="middle" dominant-baseline="central" fill="#000" transform="matrix(0.3420 -0.9397 0.7048 0.2565 322.70 194.80)">2</text>
<text font-size="8.3" text-anchor="middle" dominant-baseline="central" fill="#000" transform="matrix(0.3420 -0.9397 0.7048 0.2565 338.20 205.00)">3</text>
<text font-size="8.3" text-anchor="middle" dominant-baseline="central" fill="#000" transform="matrix(0.3420 -0.9397 0.7048 0.2565 353.40 215.30)">4</text>
<text font-size="8.3" text-anchor="middle" dominant-baseline="central" fill="#000" transform="matrix(0.3420 -0.9397 0.7048 0.2565 369.50 226.90)">5</text>
<text font-size="8.3" text-anchor="middle" dominant-baseline="central" fill="#000" transform="matrix(0.3420 -0.9397 0.7048 0.2565 387.00 240.00)">6</text>
<text font-size="8.0" text-anchor="middle" dominant-baseline="central" fill="#000" transform="matrix(0.8480 0.5299 -0.3815 0.6106 443.10 245.30)">0.0</text>
<text font-size="8.0" text-anchor="middle" dominant-baseline="central" fill="#000" transform="matrix(0.8480 0.5299 -0.3815 0.6106 460.70 232.80)">0.5</text>
<text font-size="8.0" text-anchor="middle" dominant-baseline="central" fill="#000" transform="matrix(0.8480 0.5299 -0.3815 0.6106 479.60 222.60)">1.0</text>
<text font-size="8.0" text-anchor="middle" dominant-baseline="central" fill="#000" transform="matrix(0.8480 0.5299 -0.3815 0.6106 495.70 210.30)">1.5</text>
<text font-size="8.0" text-anchor="middle" dominant-baseline="central" fill="#000" transform="matrix(0.8480 0.5299 -0.3815 0.6106 508.80 200.10)">2.0</text>
<text font-size="8.0" text-anchor="middle" dominant-baseline="central" fill="#000" transform="matrix(0.8480 0.5299 -0.3815 0.6106 523.40 189.90)">2.5</text>
<text font-size="8.0" text-anchor="middle" dominant-baseline="central" fill="#000" transform="matrix(0.8480 0.5299 -0.3815 0.6106 536.60 180.80)">3.0</text>
<text font-size="8.6" text-anchor="middle" dominant-baseline="central" fill="#000" transform="translate(286.60 128.50) rotate(-97) scale(1 1.15)">Optical intensity (µW)</text>
<text font-size="9.5" text-anchor="middle" dominant-baseline="central" fill="#000" transform="matrix(0.7986 0.6018 -0.6713 0.5585 341.70 224.00)">fiber No</text>
<text font-size="7.2" text-anchor="middle" dominant-baseline="central" fill="#000" transform="matrix(0.8141 -0.5807 0.4239 0.6803 505.90 220.10)">Ice thikness (mm)</text>
<text transform="translate(129.2 262) scale(0.9 1)" font-size="14.6" text-anchor="middle" dominant-baseline="central" style="font-family:'Liberation Serif',serif" fill="#000">(<tspan font-weight="bold">a</tspan>)</text>
<text transform="translate(406.6 262) scale(0.9 1)" font-size="14.6" text-anchor="middle" dominant-baseline="central" style="font-family:'Liberation Serif',serif" fill="#000">(<tspan font-weight="bold">b</tspan>)</text>
</svg>
</body></html>
